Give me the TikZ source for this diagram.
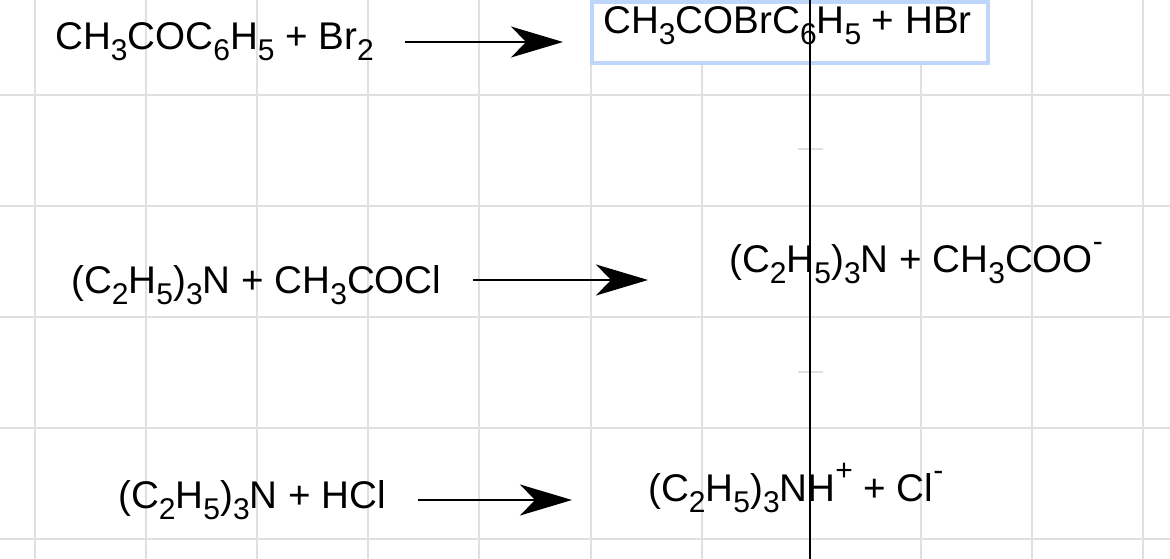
\documentclass[tikz,border=0pt]{standalone}
\usepackage{fontspec}
\setmainfont{Liberation Sans}
\usetikzlibrary{arrows.meta}
\newcommand{\chsb}[1]{\raisebox{-0.28em}{\fontsize{30}{31}\selectfont #1}}
\newcommand{\chsp}[1]{\raisebox{0.55em}{\fontsize{30}{31}\selectfont #1}}
\begin{document}
\begin{tikzpicture}[x=1pt,y=-1pt,
  chem/.style={anchor=west,inner sep=0pt,font=\fontsize{38.6}{40}\selectfont},
  rxn/.style={line width=1.6pt,-{Stealth[length=52pt,width=31pt,inset=15pt]}},
  gridl/.style={draw=black!12,line width=1.5pt}]
\useasboundingbox (0,0) rectangle (1170,559);
\foreach \x in {35,146,257,368,479,591,702,921,1032,1143} \draw[gridl] (\x,0) -- (\x,559);
\foreach \y in {95,206,317,428,539} \draw[gridl] (0,\y) -- (1170,\y);
\draw[gridl] (798,149) -- (823,149);
\draw[gridl] (798,372) -- (823,372);
\draw[draw={rgb,255:red,190;green,214;blue,250},line width=4pt,fill=white] (592,2) rectangle (988,63);
\node[chem] (r1) at (55,42) {CH\chsb{3}COC\chsb{6}H\chsb{5} + Br\chsb{2}};
\node[chem] (p1) at (603,26) {CH\chsb{3}COBrC\chsb{6}H\chsb{5} + HBr};
\node[chem] (r2) at (71,285) {(C\chsb{2}H\chsb{5})\chsb{3}N + CH\chsb{3}COCl};
\node[chem] (p2) at (729,263) {(C\chsb{2}H\chsb{5})\chsb{3}N + CH\chsb{3}COO\chsp{-}};
\node[chem] (r3) at (118,500) {(C\chsb{2}H\chsb{5})\chsb{3}N + HCl};
\node[chem] (p3) at (648,488) {(C\chsb{2}H\chsb{5})\chsb{3}NH\chsp{+} + Cl\chsp{-}};
\coordinate (a1s) at (405,42); \coordinate (a1e) at (563,42);
\coordinate (a2s) at (473,280); \coordinate (a2e) at (648,280);
\coordinate (a3s) at (418,500); \coordinate (a3e) at (572,500);
\draw[rxn] (a1s) -- (a1e);
\draw[rxn] (a2s) -- (a2e);
\draw[rxn] (a3s) -- (a3e);
\draw[line width=1.6pt] (810,0) -- (810,559);
\end{tikzpicture}
\end{document}
